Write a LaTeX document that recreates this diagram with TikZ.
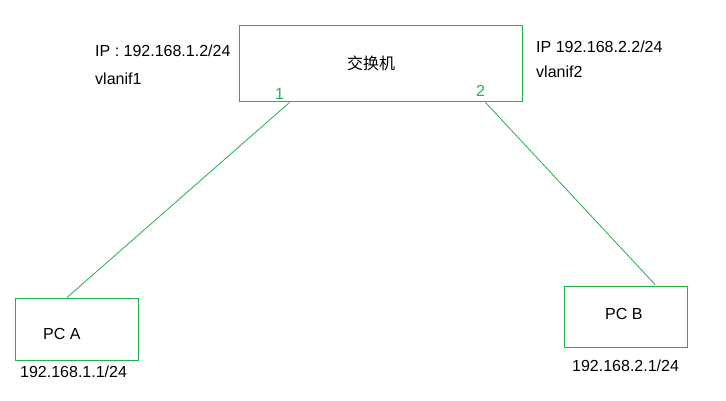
\documentclass[tikz,border=0pt]{standalone}
\usepackage{fontspec}
\setmainfont{Liberation Sans}
\newfontfamily\cjk{Noto Sans CJK SC}
\usetikzlibrary{calc}
\definecolor{netgreen}{RGB}{34,177,76}

\begin{document}
\begin{tikzpicture}[x=1pt,y=-1pt,
    box/.style={draw=netgreen,line width=1pt,inner sep=0pt,minimum width=123pt},
    lbl/.style={anchor=base west,inner sep=0pt,font=\fontsize{16}{16}\selectfont},
    port/.style={lbl,text=netgreen}]
              \useasboundingbox[fill=white] (0,0) rectangle (726,401);

              % devices
              \node[box,minimum width=283pt,minimum height=76pt] (switch) at (380.5,64) {};
              \node[box,minimum height=62pt] (pca) at (76.5,329) {};
              \node[box,minimum height=61pt] (pcb) at (625.5,316.5) {};

              \node[anchor=west,inner sep=0pt,font=\cjk\fontsize{16}{16}\selectfont] (swname) at (347,63) {交换机};
              \node[lbl] (pcaname) at (43,339) {PC A};
              \node[lbl] (pcbname) at (605,319) {PC B};

              % addresses
              \node[lbl] (ip1) at (95,57) {IP : 192.168.1.2/24};
              \node[lbl] (vif1) at (95,85) {vlanif1};
              \node[lbl] (ip2) at (536,53) {IP 192.168.2.2/24};
              \node[lbl] (vif2) at (536,78) {vlanif2};
              \node[lbl] (ipa) at (20,377) {192.168.1.1/24};
              \node[lbl] (ipb) at (572,371) {192.168.2.1/24};

              % ports and links
              \node[port] (n1) at (275,100) {1};
              \node[port] (n2) at (476,97) {2};
              \coordinate (port1) at ($(switch.south west)+(51,0)$);
              \coordinate (port2) at ($(switch.south west)+(247,0)$);

              \draw[netgreen,line width=0.8pt] (port1) -- ($(pca.north)+(-9.5,0)$);
              \draw[netgreen,line width=0.8pt] (port2) -- ($(pcb.north)+(29.5,-1)$);
            \end{tikzpicture}
\end{document}
